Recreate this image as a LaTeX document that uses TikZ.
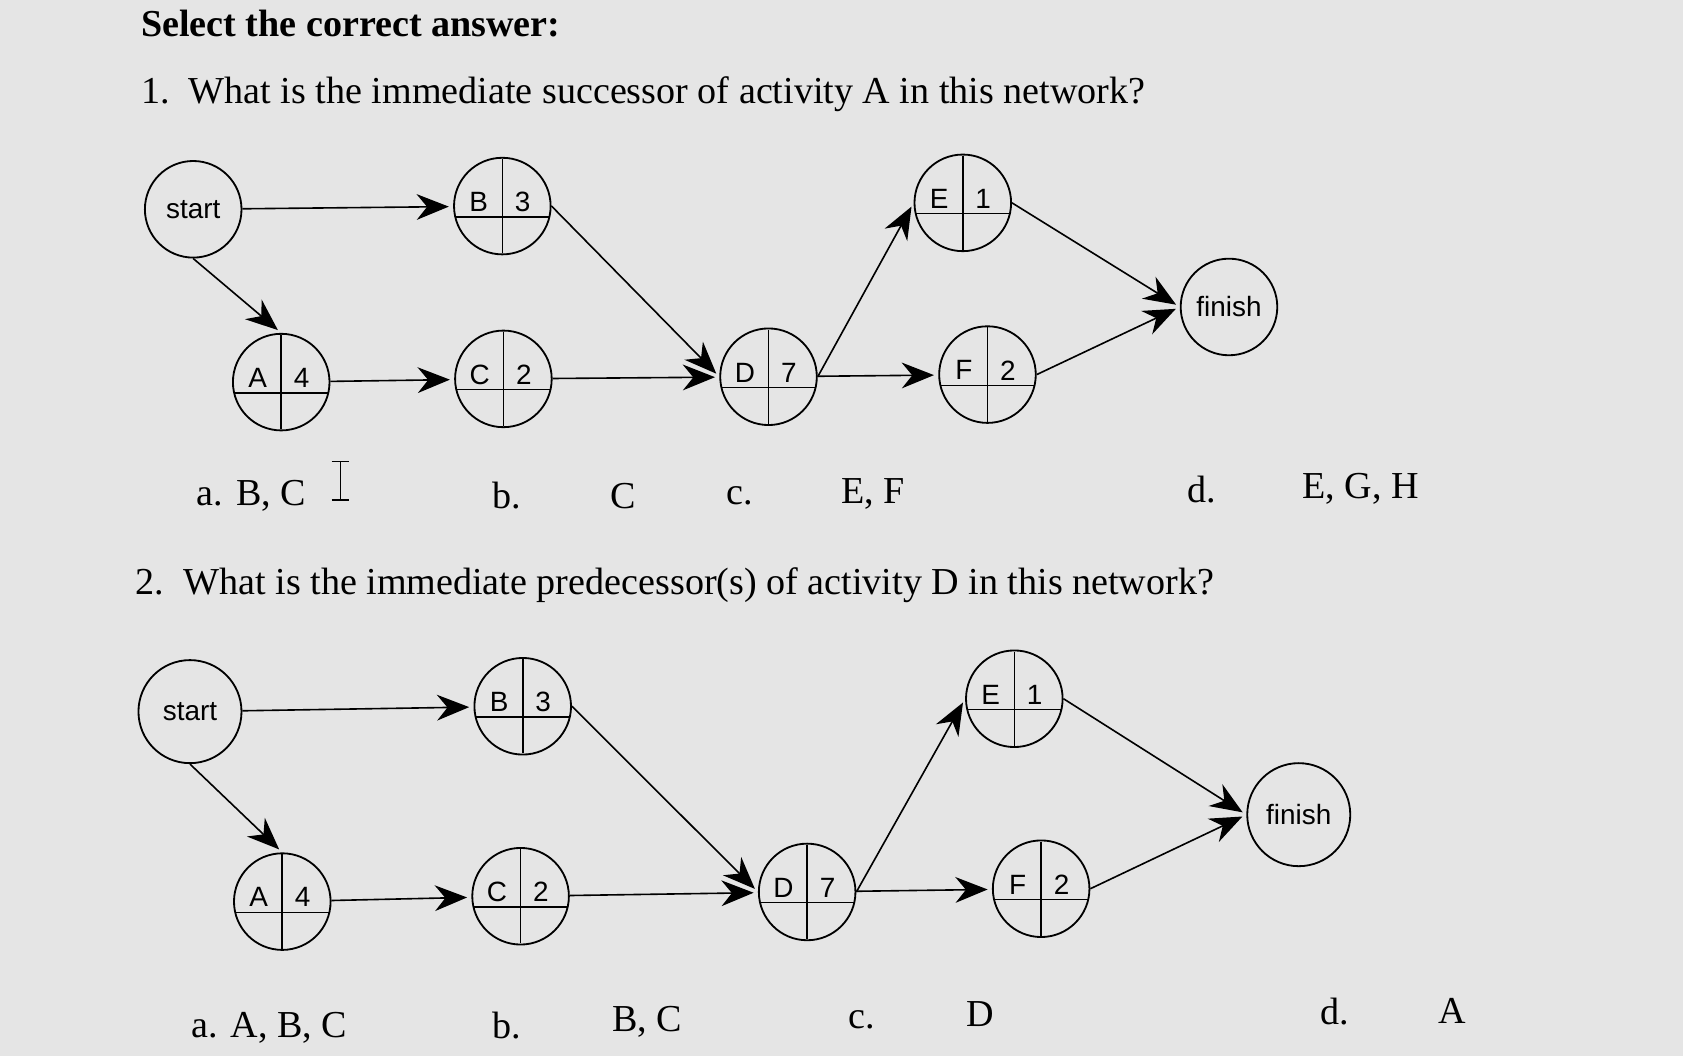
\documentclass[tikz,border=0pt]{standalone}
\usepackage{fontspec}
\setmainfont{Liberation Serif}
\newfontfamily\arialf{Liberation Sans}
\usetikzlibrary{arrows.meta}
\begin{document}
\begin{tikzpicture}[x=1pt,y=-1pt,
  ev/.style={circle,draw,line width=1.7pt,minimum size=90pt,inner sep=0pt,font=\arialf\fontsize{26}{28}\selectfont},
  arr/.style={line width=1.5pt,-{Stealth[length=30pt,width=24pt]},shorten >=4pt},
  qt/.style={anchor=west,font=\fontsize{35.5}{38}\selectfont},
  ans/.style={anchor=west,font=\fontsize{35.5}{38}\selectfont}]
\fill[black!10] (0,0) rectangle (1568,984);
\useasboundingbox (0,0) rectangle (1568,984);
\newcommand\act[5]{% name, x, y, letter, num
  \node[ev] (#1) at (#2,#3) {};
  \draw[line width=1.5pt] (#2-44,#3+10) -- (#2+44,#3+10);
  \draw[line width=1.5pt] (#2,#3-44) -- (#2,#3+44);
  \node[font=\arialf\fontsize{26}{28}\selectfont] at (#2-22,#3-4) {#4};
  \node[font=\arialf\fontsize{26}{28}\selectfont] at (#2+19,#3-4) {#5};}
\node[qt,font=\bfseries\fontsize{35.5}{38}\selectfont] (t0) at (128,22) {Select the correct answer:};
\node[qt] (q1) at (128,88) {1.\ \ What is the immediate successor of activity A in this network?};
% diagram 1
\node[ev] (s1) at (180,195) {start};
\act{b1}{468}{192}{B}{3}
\act{a1}{262}{356}{A}{4}
\act{c1}{469}{353}{C}{2}
\act{d1}{716}{351}{D}{7}
\act{e1}{897}{189}{E}{1}
\act{f1}{920}{349}{F}{2}
\node[ev] (fi1) at (1145,286) {finish};
\draw[arr] (s1) -- (b1);
\draw[arr] (s1.south) -- (a1.north);
\draw[arr] (a1) -- (c1);
\draw[arr] (b1.east) -- (d1.west);
\draw[arr] (c1) -- (d1);
\draw[arr] (d1.east) -- (e1.west);
\draw[arr] (d1) -- (f1);
\draw[arr] (e1.east) -- (fi1.west);
\draw[arr] (f1.east) -- (fi1.west);
\node[ans] (a1a) at (180,462) {a. B, C};
\draw[line width=1.4pt] (309,430)--(325,430) (317,430)--(317,466) (309,466)--(325,466);
\node[ans] (a1b) at (455,462) {b.};
\node[ans] (a1bt) at (565,462) {C};
\node[ans] (a1c) at (673,462) {c.};
\node[ans] (a1ct) at (780,460) {E, F};
\node[ans] (a1d) at (1103,456) {d.};
\node[ans] (a1dt) at (1210,455) {E, G, H};
\node[qt] (q2) at (123,545) {2.\ \ What is the immediate predecessor(s) of activity D in this network?};
% diagram 2
\node[ev,minimum size=96pt] (s2) at (177,663) {start};
\act{b2}{487}{658}{B}{3}
\act{a2}{263}{840}{A}{4}
\act{c2}{485}{835}{C}{2}
\act{d2}{752}{831}{D}{7}
\act{e2}{945}{651}{E}{1}
\act{f2}{970}{828}{F}{2}
\node[ev,minimum size=96pt] (fi2) at (1210,759) {finish};
\draw[arr] (s2) -- (b2);
\draw[arr] (s2.south) -- (a2.north);
\draw[arr] (a2) -- (c2);
\draw[arr] (b2.east) -- (d2.west);
\draw[arr] (c2) -- (d2);
\draw[arr] (d2.east) -- (e2.west);
\draw[arr] (d2) -- (f2);
\draw[arr] (e2.east) -- (fi2.west);
\draw[arr] (f2.east) -- (fi2.west);
\node[ans] (a2a) at (175,958) {a. A, B, C};
\node[ans] (a2b) at (455,955) {b.};
\node[ans] (a2bt) at (567,952) {B, C};
\node[ans] (a2c) at (787,950) {c.};
\node[ans] (a2ct) at (897,945) {D};
\node[ans] (a2d) at (1227,942) {d.};
\node[ans] (a2dt) at (1337,942) {A};
\end{tikzpicture}
\end{document}
